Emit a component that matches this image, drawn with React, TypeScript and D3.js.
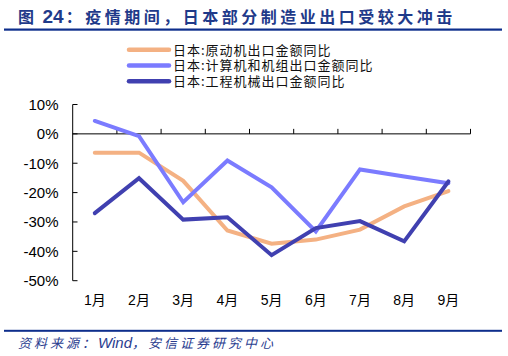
import React from "react";
import * as d3 from "d3";

const months = ["1月", "2月", "3月", "4月", "5月", "6月", "7月", "8月", "9月"];
const engineValues = [-6.4, -6.4, -16.0, -32.9, -37.4, -36.0, -32.6, -24.7, -19.5];
const computerValues = [4.4, -0.8, -23.3, -9.1, -18.2, -33.2, -12.1, -14.5, -16.8];
const machineryValues = [-27.0, -15.1, -29.2, -28.4, -41.3, -32.1, -29.7, -36.6, -16.2];
const yTicks = [10, 0, -10, -20, -30, -40, -50];

const seriesNames = [
  "日本:原动机出口金额同比",
  "日本:计算机和机组出口金额同比",
  "日本:工程机械出口金额同比",
];
const seriesColors = ["#f4b183", "#7b7bff", "#4040b0"];
const seriesData = [engineValues, computerValues, machineryValues];

const FONT = '"Liberation Sans", Arial, "Noto Sans CJK SC", sans-serif';
const CJK = '"Noto Sans CJK SC", "Liberation Sans", sans-serif';

export default function App() {
  const W = 508;
  const H = 356;
  const x = d3.scaleBand<string>().domain(months).range([72.7, 470.5]).padding(0);
  const y = d3.scaleLinear().domain([-50, 10]).range([280.7, 104.5]);
  const cx = (m: string) => (x(m) as number) + x.bandwidth() / 2;
  const line = d3
    .line<number>()
    .x((_, i) => cx(months[i]))
    .y((d) => y(d));

  return (
    <svg
      width={W}
      height={H}
      style={{ position: "absolute", left: 0, top: 0, background: "#fff" }}
    >
      {/* Title */}
      <text
        x={18}
        y={23}
        fill="#1f3a8a"
        fontFamily={CJK}
        fontWeight="bold"
        fontSize={16}
        letterSpacing={3.5}
      >
        图
        <tspan fontFamily={FONT} fontSize={19} letterSpacing={0} dx={5}>
          24
        </tspan>
        <tspan dx={2}>：疫情期间，日本部分制造业出口受较大冲击</tspan>
      </text>
      <rect x={4} y={28.5} width={498} height={2.2} fill="#0e2e8c" />

      {/* Legend */}
      {seriesNames.map((name, i) => (
        <g key={name}>
          <line
            x1={129}
            x2={169}
            y1={49.7 + i * 15.8}
            y2={49.7 + i * 15.8}
            stroke={seriesColors[i]}
            strokeWidth={4.5}
            strokeLinecap="round"
          />
          <text
            x={173}
            y={49.7 + i * 15.8 + 4.8}
            fontFamily={CJK}
            fontSize={13}
            letterSpacing={1}
            fill="#111"
          >
            {name}
          </text>
        </g>
      ))}

      {/* Y axis */}
      <line x1={72.7} x2={72.7} y1={y(10)} y2={y(-50)} stroke="#000" strokeWidth={1} />
      {yTicks.map((t) => (
        <g key={t}>
          <line x1={72.7} x2={77.5} y1={y(t)} y2={y(t)} stroke="#000" strokeWidth={1} />
          <text
            x={58.5}
            y={y(t) + 5.3}
            textAnchor="end"
            fontFamily={FONT}
            fontSize={15}
            fill="#000"
          >
            {t + "%"}
          </text>
        </g>
      ))}

      {/* Zero line with category ticks */}
      <line x1={72.7} x2={470.5} y1={y(0)} y2={y(0)} stroke="#000" strokeWidth={1} />
      {months.map((m) => (
        <line
          key={"t" + m}
          x1={(x(m) as number) + x.bandwidth()}
          x2={(x(m) as number) + x.bandwidth()}
          y1={y(0)}
          y2={y(0) - 5}
          stroke="#000"
          strokeWidth={1}
        />
      ))}

      {/* X labels */}
      {months.map((m) => (
        <text
          key={m}
          x={cx(m)}
          y={305}
          textAnchor="middle"
          fontFamily={FONT}
          fontSize={14}
          fill="#000"
        >
          {m}
        </text>
      ))}

      {/* Lines */}
      {seriesData.map((vals, i) => (
        <path
          key={i}
          d={line(vals) as string}
          fill="none"
          stroke={seriesColors[i]}
          strokeWidth={4}
          strokeLinejoin="miter"
          strokeLinecap="round"
        />
      ))}

      {/* Footer */}
      <rect x={4} y={329.8} width={498} height={2} fill="#0e2e8c" />
      <text
        x={18}
        y={348}
        fontFamily={CJK}
        fontStyle="italic"
        fontSize={13}
        letterSpacing={3}
        fill="#2a3d8f"
      >
        资料来源：
        <tspan fontFamily={FONT} fontSize={15} letterSpacing={0}>
          Wind
        </tspan>
        ，安信证券研究中心
      </text>
    </svg>
  );
}
